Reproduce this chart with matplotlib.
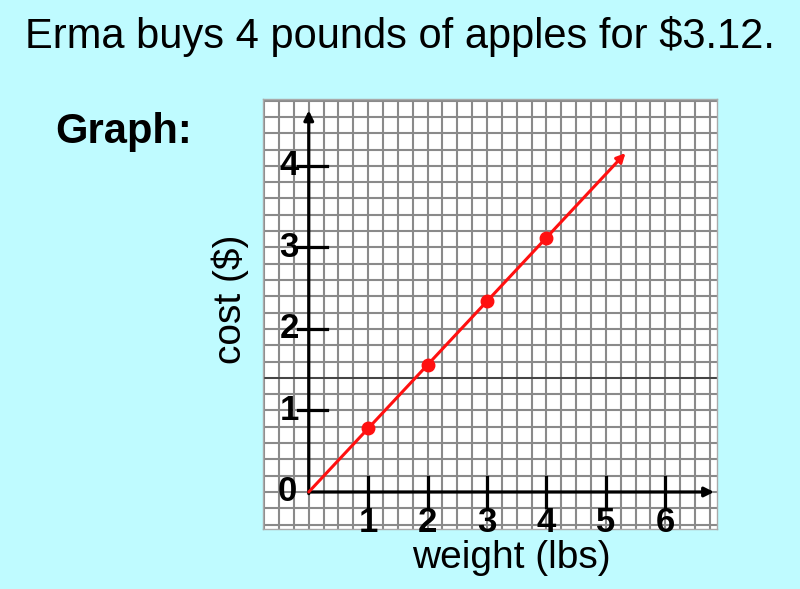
import numpy as np
from matplotlib import pyplot as plt

# datos
weights = [1, 2, 3, 4]
costs = [0.78, 1.56, 2.34, 3.12]
line_x = [0, 5.33]
line_y = [0, 4.157]
x_ticks = [1, 2, 3, 4, 5, 6]
y_ticks = [0, 1, 2, 3, 4]

title = "Erma buys 4 pounds of apples for $3.12."
bg = '#BFFBFF'

plt.rcParams['font.family'] = ['Liberation Sans', 'DejaVu Sans']

fig = plt.figure(figsize=(8, 5.89), dpi=100, facecolor=bg)
ax = fig.add_axes([263 / 800, 1 - 529 / 589, (717 - 263) / 800, (529 - 99) / 589])
ax.set_facecolor('white')
ax.set_xlim(-0.77, 6.87)
ax.set_ylim(-0.454, 4.82)

# cuadricula
for gx in np.arange(-0.75, 6.9, 0.25):
    ax.axvline(gx, color='#8a8a8a', lw=1.5, zorder=1)
for gy in np.arange(-0.4, 4.85, 0.2):
    ax.axhline(gy, color='#8a8a8a', lw=1.5, zorder=1)
ax.axhline(1.4, color='#444444', lw=1.4, zorder=1)

for s in ax.spines.values():
    s.set_color('#aaaaaa')
    s.set_linewidth(1.0)
ax.set_xticks([])
ax.set_yticks([])

# ejes con flechas
ax.annotate('', xy=(6.82, 0), xytext=(0, 0),
            arrowprops=dict(arrowstyle='-|>', color='black', lw=2.3,
                            mutation_scale=14, shrinkA=0, shrinkB=0), zorder=3)
ax.annotate('', xy=(0, 4.68), xytext=(0, -0.02),
            arrowprops=dict(arrowstyle='-|>', color='black', lw=2.3,
                            mutation_scale=14, shrinkA=0, shrinkB=0), zorder=3)

for t in x_ticks:
    ax.plot([t, t], [-0.18, 0.18], color='black', lw=2.3, zorder=3)
    ax.text(t, -0.37, str(t), ha='center', va='center', fontsize=25,
            fontweight='bold', zorder=4)
for t in y_ticks:
    if t > 0:
        ax.plot([-0.18, 0.3], [t, t], color='black', lw=2.3, zorder=3)
    ax.text(-0.17 if t > 0 else -0.2, t, str(t), ha='right', va='center',
            fontsize=25, fontweight='bold', zorder=4)

# recta y puntos
ax.annotate('', xy=(line_x[1], line_y[1]), xytext=(line_x[0], line_y[0]),
            arrowprops=dict(arrowstyle='-|>', color='#ff1010', lw=2.2,
                            mutation_scale=13, shrinkA=0, shrinkB=0), zorder=5)
ax.plot(weights, costs, 'o', color='#ff1010', ms=9, zorder=6)

# textos
fig.text(400 / 800, 1 - 48 / 589, title, ha='center', va='baseline', fontsize=30)
fig.text(55 / 800, 1 - 143 / 589, 'Graph:', ha='left', va='baseline',
         fontsize=30, fontweight='bold')
fig.text(230 / 800, 1 - 299 / 589, 'cost ($)', ha='center', va='center',
         rotation=90, fontsize=28)
fig.text(511 / 800, 1 - 558 / 589, 'weight (lbs)', ha='center', va='center',
         fontsize=28)

fig.savefig('out.png', dpi=100, facecolor=bg)
